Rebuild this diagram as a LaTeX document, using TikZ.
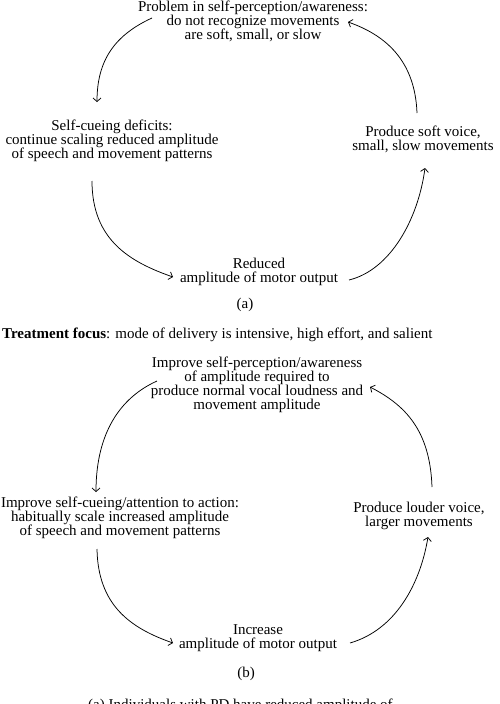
\documentclass[tikz,border=0pt]{standalone}
\usepackage{fontspec}
\setmainfont{Liberation Serif}
\usepackage{tikz}
\usetikzlibrary{arrows.meta}

\begin{document}
\begin{tikzpicture}[x=1pt, y=-1pt,
    stage/.style={align=center, inner sep=0pt, font=\fontsize{15}{14}\selectfont},
    cycarrow/.style={-{Straight Barb[length=3.5pt, width=8pt]}, line width=0.75pt}]
    \useasboundingbox (0,0) rectangle (500,704);
    \clip (0,0) rectangle (500,704);

    % (a) cycle
    \node[stage] (topA) at (253,21) {Problem in self-perception/awareness:\\do not recognize movements\\are soft, small, or slow};
    \node[stage] (leftA) at (112,141) {Self-cueing deficits:\\continue scaling reduced amplitude\\of speech and movement patterns};
    \node[stage] (rightA) at (423,139.5) {Produce soft voice,\\small, slow movements};
    \node[stage] (botA) at (259,272) {Reduced\\amplitude of motor output};
    \node[stage] (labA) at (245,305) {(a)};

    \draw[cycarrow] ([shift={(-101,-3)}]topA.center) .. controls +(-37,17) and +(0,-42) .. ([shift={(-15,-39)}]leftA.center);
    \draw[cycarrow] ([shift={(-20,40)}]leftA.center) .. controls +(0,59) and +(-43,-15) .. ([shift={(-86,5)}]botA.center);
    \draw[cycarrow] ([shift={(90,8)}]botA.center) .. controls +(41,-10) and +(-7,52) .. ([shift={(2,28.5)}]rightA.center);
    \draw[cycarrow] ([shift={(-6,-26.5)}]rightA.center) .. controls +(-2,-53) and +(37,13) .. ([shift={(95,1)}]topA.center);

    % Treatment focus
    \node[stage, anchor=base west] (focus) at (2,338) {\textbf{Treatment focus}: mode of delivery is intensive, high effort, and salient};

    % (b) cycle
    \node[stage] (topB) at (257,384.5) {Improve self-perception/awareness\\of amplitude required to\\produce normal vocal loudness and\\movement amplitude};
    \node[stage] (leftB) at (120,517.5) {Improve self-cueing/attention to action:\\habitually scale increased amplitude\\of speech and movement patterns};
    \node[stage] (rightB) at (419,515.5) {Produce louder voice,\\larger movements};
    \node[stage] (botB) at (258,638.5) {Increase\\amplitude of motor output};
    \node[stage] (labB) at (246,674) {(b)};

    \draw[cycarrow] ([shift={(-100,-3.5)}]topB.center) .. controls +(-42,19) and +(0,-52) .. ([shift={(-24,-25.5)}]leftB.center);
    \draw[cycarrow] ([shift={(-23,31.5)}]leftB.center) .. controls +(1,56) and +(-43,-15) .. ([shift={(-85,4.5)}]botB.center);
    \draw[cycarrow] ([shift={(92,4.5)}]botB.center) .. controls +(45,-13) and +(-8,48) .. ([shift={(9,21.5)}]rightB.center);
    \draw[cycarrow] ([shift={(13,-28.5)}]rightB.center) .. controls +(-2,-57) and +(35,18) .. ([shift={(113,2.5)}]topB.center);

    % caption, cut by the page edge
    \node[stage, anchor=base west] (capt) at (88,709) {(a) Individuals with PD have reduced amplitude of};
\end{tikzpicture}
\end{document}
